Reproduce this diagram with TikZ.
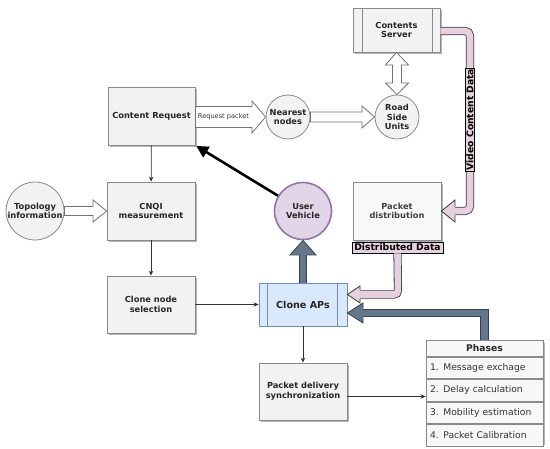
\documentclass[tikz,border=0pt]{standalone}
\usepackage{fontspec}
\setmainfont{DejaVu Sans}
\usetikzlibrary{arrows.meta,shadows,calc}
\definecolor{boxfill}{HTML}{F2F2F2}
\definecolor{boxline}{HTML}{8A8A8A}
\definecolor{shad}{HTML}{B4B4B4}
\definecolor{pinkf}{HTML}{E6D0DE}
\definecolor{pinkl}{HTML}{3A3A3A}
\definecolor{darkf}{HTML}{647687}
\definecolor{darkl}{HTML}{314354}
\definecolor{uvf}{HTML}{E1D5E7}
\definecolor{uvl}{HTML}{9673A6}
\definecolor{bluef}{HTML}{DAE8FC}
\definecolor{bluel}{HTML}{6C8EBF}
\newcommand{\lblfont}{\fontsize{8.3}{9.8}\selectfont\bfseries}
\begin{document}
\begin{tikzpicture}[x=1pt,y=-1pt,
  gbox/.style={draw=boxline, fill=boxfill, line width=0.8pt,
    drop shadow={shadow xshift=2pt,shadow yshift=-2pt,fill=shad,opacity=1},
    inner sep=1pt, align=center, font=\lblfont, text=black!85},
  circ/.style={circle, draw=boxline, fill=boxfill, line width=0.8pt, inner sep=0pt,
    align=center, font=\lblfont, text=black!85},
  hollow/.style={draw=black!55, fill=white, line width=0.8pt, line join=miter},
  thinarrow/.style={draw=black!80, line width=0.7pt, -{Stealth[length=5pt,width=4.5pt]}},
  pinkpipe/.style={draw=pinkl, double=pinkf, double distance=6.6pt, line width=0.8pt, rounded corners=5pt},
  pinkhead/.style={draw=pinkl, fill=pinkf, line width=0.8pt, line join=miter},
  darkpipe/.style={draw=darkl, double=darkf, double distance=6.6pt, line width=0.8pt},
  darkhead/.style={draw=darkl, fill=darkf, line width=0.8pt, line join=miter},
  tag/.style={draw=black, fill=pinkf, line width=0.7pt, inner sep=0.8pt, font=\fontsize{9.2}{10}\selectfont\bfseries},
  rowcell/.style={draw=boxline, fill=boxfill!60!white, line width=0.8pt, minimum height=21.7pt,
    text width=109pt, inner xsep=4pt, inner ysep=0pt, align=left, font=\fontsize{9.2}{10}\selectfont, text=black!80}
]
\useasboundingbox (0,0) rectangle (550,449);

% boxes
\node[gbox, minimum width=87pt, minimum height=44pt] (cs) at (396.5,30) {Contents\\Server};
\node[gbox, minimum width=87pt, minimum height=58pt] (cr) at (151.5,116) {Content Request};
\node[gbox, minimum width=88pt, minimum height=58pt] (cnqi) at (151,211) {CNQI\\measurement};
\node[gbox, minimum width=88pt, minimum height=57pt] (cns) at (151,304.5) {Clone node\\selection};
\node[gbox, fill=boxfill!50!white, minimum width=88pt, minimum height=58pt, text=black!75] (pd) at (397,211) {Packet\\distribution};
\node[gbox, minimum width=88pt, minimum height=57pt] (pds) at (303,391.5) {Packet delivery\\synchronization};
\node[draw=bluel, fill=bluef, line width=0.8pt, minimum width=88pt, minimum height=43pt,
  font=\fontsize{9.6}{11}\selectfont\bfseries, text=black!85] (clone) at (303,304.5) {Clone APs};

% process-style inner lines
\draw[boxline, line width=0.8pt] ([xshift=10pt]cs.north west) -- ([xshift=10pt]cs.south west);
\draw[boxline, line width=0.8pt] ([xshift=-8pt]cs.north east) -- ([xshift=-8pt]cs.south east);
\draw[bluel, line width=0.8pt] ([xshift=9pt]clone.north west) -- ([xshift=9pt]clone.south west);
\draw[bluel, line width=0.8pt] ([xshift=-10pt]clone.north east) -- ([xshift=-10pt]clone.south east);

% circles
\node[circ, minimum size=44pt] (nn) at (288,117) {Nearest\\nodes};
\node[circ, minimum size=44pt] (rsu) at (397,117) {Road\\Side\\Units};
\node[circ, minimum size=58pt] (topo) at (35,211) {Topology\\information};
\node[circ, draw=uvl, fill=uvf, line width=1.6pt, minimum size=57pt] (uv) at (303,211) {User\\Vehicle};

% hollow arrows
\draw[hollow] (cr.east |- 0,106.5) -- (252,106.5) -- (252,101) -- (nn.west) -- (252,133) -- (252,127.5) -- (cr.east |- 0,127.5) -- cycle;
\node[font=\fontsize{6.6}{7}\selectfont, text=black!80, inner sep=0pt] (rp) at (223.5,117) {Request packet};
\draw[hollow] (nn.east |- 0,112) -- (362,112) -- (362,106) -- (rsu.west) -- (362,128) -- (362,122) -- (nn.east |- 0,122) -- cycle;
\draw[hollow] (topo.east |- 0,206.5) -- (93,206.5) -- (93,200) -- (cnqi.west) -- (93,222) -- (93,215.5) -- (topo.east |- 0,215.5) -- cycle;
\draw[hollow] (cs.south) -- (408.5,65) -- (401.5,65) -- (401.5,83) -- (408.5,83) -- (rsu.north) -- (385.5,83) -- (392.5,83) -- (392.5,65) -- (385.5,65) -- cycle;

% pink pipe: video content data
\coordinate (vc1) at (cs.east |- 0,31);
\coordinate (vc2) at (455,211);
\draw[pinkpipe] (vc1) -- (470,31) -- (470,211) -- (vc2);
\filldraw[pinkhead] (455,206.7) -- (455,200) -- (pd.east) -- (455,222) -- (455,215.3);
\node[tag, rotate=90] (vcd) at (470,119.5) {Video Content Data};

% distributed data tag and pipe
\node[tag, minimum width=91pt, minimum height=11pt] (dd) at (397.5,247.5) {Distributed Data};
\draw[pinkpipe, rounded corners=4pt] (dd.south) -- (398,294.5) -- (360,294.5);
\filldraw[pinkhead] (360,290.2) -- (360,286) -- (clone.east |- 0,294.5) -- (360,303) -- (360,298.8);

% phases table
\fill[shad] (428,343) rectangle (545,445);
\node[draw=boxline, fill=boxfill!60!white, line width=0.8pt, minimum width=117pt, minimum height=15.5pt, inner sep=0pt,
  font=\fontsize{9.2}{10}\selectfont\bfseries, text=black!85] (ph) at (484.5,348.5) {Phases};
\node[rowcell, anchor=north] (r1) at (ph.south) {1. Message exchage};
\node[rowcell, anchor=north] (r2) at (r1.south) {2. Delay calculation};
\node[rowcell, anchor=north] (r3) at (r2.south) {3. Mobility estimation};
\node[rowcell, anchor=north] (r4) at (r3.south) {4. Packet Calibration};

% dark pipe: phases -> clone APs
\draw[darkpipe] (ph.north) -- (484.5,313) -- (363,313);
\filldraw[darkhead] (363,308.7) -- (363,303) -- (clone.east |- 0,313) -- (363,323) -- (363,317.3);

% dark arrow: clone APs -> user vehicle
\draw[darkpipe, double distance=5.6pt] (clone.north) -- (303,255);
\filldraw[darkhead] (299.2,255) -- (290,255) -- (uv.south) -- (316,255) -- (306.8,255);

% black arrow: user vehicle -> content request
\draw[line width=2.6pt, black, -{Triangle[length=12pt,width=12pt]}, shorten >=1pt] (uv) -- (cr.south east);

% thin connectors
\draw[thinarrow] (cr) -- (cnqi);
\draw[thinarrow] (cnqi) -- (cns);
\draw[thinarrow] (cns.east) -- (clone.west |- cns.east);
\draw[thinarrow] (clone) -- (pds);
\draw[thinarrow] ([yshift=-5pt]pds.east) -- ([yshift=-5pt]pds.east -| r2.west);
\end{tikzpicture}
\end{document}
